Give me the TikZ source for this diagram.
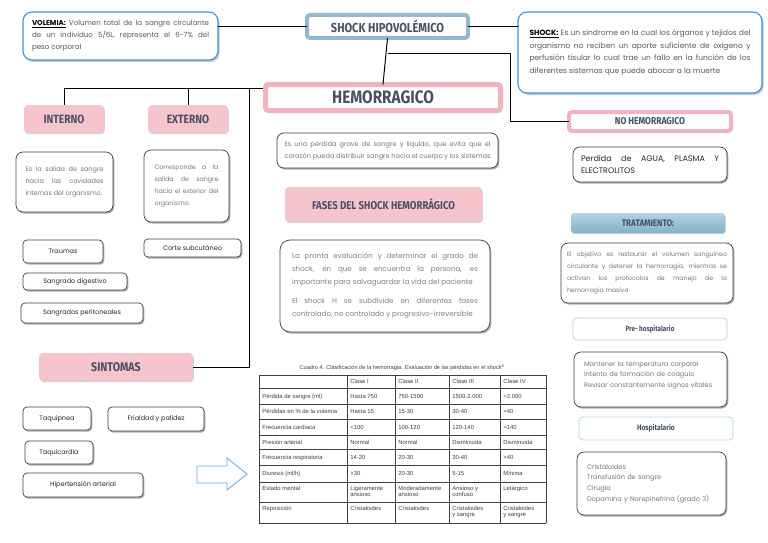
\documentclass[tikz,border=0pt]{standalone}
\usepackage{fontspec}
\usepackage{array}
\setmainfont{Poppins}
\newfontfamily\hfont[FakeStretch=0.85]{Fira Sans}
\newfontfamily\tfont{Liberation Sans}
\usetikzlibrary{shadows}
\definecolor{pinkf}{HTML}{F5C4CD}
\definecolor{pinkb}{HTML}{F2B3C0}
\definecolor{hblue}{HTML}{94B8CD}
\definecolor{bblue}{HTML}{3F94D6}
\definecolor{lblue}{HTML}{B7D3E1}
\definecolor{htext}{HTML}{4A5064}
\definecolor{btext}{HTML}{777777}
\definecolor{tratt}{HTML}{B3D3E4}
\definecolor{tratb}{HTML}{82B1CB}
\newcommand\fsz[2]{\fontsize{#1}{#2}\selectfont}
\newcommand\tstrut[2]{\rule[-#2pt]{0pt}{\dimexpr#1pt+#2pt\relax}}
\newcolumntype{P}[1]{>{\raggedright\arraybackslash}p{#1}}
\hyphenpenalty=10000
\begin{document}
\begin{tikzpicture}[x=1pt,y=-1pt,
  bx/.style={anchor=north west, inner sep=0pt, outer sep=0pt},
  graybox/.style={bx, draw=black!75, line width=0.7pt, rounded corners=7pt, fill=white, text=btext,
    drop shadow={shadow xshift=1.3pt, shadow yshift=-1.6pt, fill=black!60, opacity=0.55}},
  smallbox/.style={graybox, rounded corners=4pt, font=\fsz{6.5}{8}, text=black!85},
  bluebox/.style={bx, draw=bblue, line width=1.1pt, rounded corners=9pt, fill=white, text=black!65,
    drop shadow={shadow xshift=1.5pt, shadow yshift=-2pt, fill=black!45, opacity=0.5}},
  pinkhead/.style={bx, fill=pinkf, rounded corners=4pt, text=htext, font=\hfont\bfseries,
    drop shadow={shadow xshift=0.8pt, shadow yshift=-1.2pt, fill=black!35, opacity=0.5}},
  pinkframe/.style={bx, draw=pinkb, line width=4pt, fill=white, rounded corners=3pt, text=htext, font=\hfont\bfseries},
  blueframe/.style={bx, draw=hblue, line width=4pt, fill=white, rounded corners=3pt, text=htext, font=\hfont\bfseries,
    drop shadow={shadow xshift=1pt, shadow yshift=-1.5pt, fill=black!35, opacity=0.5}},
  lightframe/.style={bx, draw=lblue, line width=0.8pt, rounded corners=4pt, fill=white, text=htext, font=\hfont\bfseries},
  conn/.style={draw=black, line width=1pt},
]
\useasboundingbox (0,0) rectangle (768,543);
\fill[white] (0,0) rectangle (768,543);

% top row
\node[bluebox, minimum width=195pt, minimum height=48pt, text width=177pt, align=justify, font=\fsz{7.1}{12}] (volemia) at (23,12)
  {\textcolor{black}{\underline{\textbf{VOLEMIA:}}} Volumen total de la sangre circulante\linebreak de un individuo 5/6L, representa el 6-7\% del\linebreak peso corporal};
\node[blueframe, minimum width=161pt, minimum height=23pt, font=\hfont\bfseries\fsz{13}{15}] (shockhip) at (307,15) {SHOCK HIPOVOLÉMICO};
\node[bluebox, minimum width=244pt, minimum height=81pt, text width=221pt, align=justify, font=\fsz{7.5}{12.5}] (shockdef) at (518,12)
  {\textcolor{black}{\underline{\textbf{SHOCK:}}} Es un síndrome en la cual los órganos y tejidos del\linebreak organismo no reciben un aporte suficiente de oxígeno y\linebreak perfusión tisular lo cual trae un fallo en la función de los\linebreak diferentes sistemas que puede abocar a la muerte};

% hemorragico
\node[pinkframe, line width=5pt, minimum width=235pt, minimum height=26pt, font=\hfont\bfseries\fsz{18}{20}] (hemo) at (265.5,84.5) {HEMORRAGICO};
\node[pinkframe, minimum width=162pt, minimum height=19pt, font=\hfont\bfseries\fsz{10}{12}] (nohemo) at (569,112) {NO HEMORRAGICO};

\node[pinkhead, minimum width=80pt, minimum height=28pt, font=\hfont\bfseries\fsz{12}{14}] (interno) at (24,105) {INTERNO};
\node[pinkhead, minimum width=80pt, minimum height=28pt, font=\hfont\bfseries\fsz{12}{14}] (externo) at (148,105) {EXTERNO};

\node[graybox, minimum width=97pt, minimum height=60pt, text width=78pt, align=justify, font=\fsz{6.5}{12}] (intdesc) at (16,152)
  {Es la salida de sangre\linebreak hacia las cavidades\linebreak internas del organismo.};
\node[graybox, minimum width=85pt, minimum height=72pt, text width=64pt, align=justify, font=\fsz{6.3}{11.8}] (extdesc) at (144,150)
  {Corresponde a la\linebreak salida de sangre\linebreak hacia el exterior del\linebreak organismo.};

\node[graybox, minimum width=221pt, minimum height=35pt, text width=206pt, align=justify, font=\fsz{6.6}{12}] (hemodesc) at (277,133)
  {Es una perdida grave de sangre y liquido, que evita que el\linebreak corazón pueda distribuir sangre hacia el cuerpo y los sistemas};
\node[pinkhead, minimum width=197pt, minimum height=35pt, font=\hfont\bfseries\fsz{11.3}{13}] (fases) at (285,187) {FASES DEL SHOCK HEMORRÁGICO};
\node[graybox, rounded corners=10pt, minimum width=210pt, minimum height=92pt, text width=186pt, align=justify, font=\fsz{7.1}{13}, text=black!50] (fasesdesc) at (280,240)
  {La pronta evaluación y determinar el grado de\linebreak shock, en que se encuentra la persona, es\linebreak importante para salvaguardar la vida del paciente\par\vspace{6pt}El shock H se subdivide en diferentes fases\linebreak controlado, no controlado y progresivo-irreversible};

% right column
\node[graybox, minimum width=154pt, minimum height=35pt, text width=138pt, align=justify, font=\fsz{8}{12}, text=black!85] (perdida) at (573,147)
  {Perdida de AGUA, PLASMA Y\linebreak ELECTROLITOS};
\node[bx, top color=tratt, bottom color=tratb, rounded corners=3pt, minimum width=154pt, minimum height=20pt, text=htext, font=\hfont\bfseries\fsz{9.5}{11},
  drop shadow={shadow xshift=0.8pt, shadow yshift=-1.2pt, fill=black!35, opacity=0.5}] (trat) at (571,213) {TRATAMIENTO:};
\node[graybox, minimum width=172pt, minimum height=60pt, text width=160pt, align=justify, font=\fsz{6.2}{12.2}] (objetivo) at (561,243)
  {El objetivo es restaurar el volumen sanguíneo\linebreak circulante y detener la hemorragia, mientras se\linebreak activan los protocolos de manejo de la\linebreak hemorragia masiva};
\node[lightframe, minimum width=154pt, minimum height=22pt, font=\hfont\bfseries\fsz{7.5}{9}] (prehosp) at (573,318) {Pre- hospitalario};
\node[graybox, minimum width=153pt, minimum height=55pt, text width=133pt, align=left, font=\fsz{6.6}{10.6}] (mantener) at (574,352)
  {Mantener la temperatura corporal\\Intento de formación de coagulo\\Revisar constantemente signos vitales\\\mbox{}};
\node[lightframe, minimum width=154pt, minimum height=23pt, font=\hfont\bfseries\fsz{7.9}{9}] (hosp) at (579,417) {Hospitalario};
\node[graybox, minimum width=149pt, minimum height=63pt, text width=129pt, align=left, font=\fsz{6.6}{10.7}] (crist) at (577,452)
  {Cristaloides\\Transfusión de sangre\\Cirugía\\Dopamina y Norepinefrina (grado 3)};

% left small boxes
\node[smallbox, minimum width=80pt, minimum height=23pt] (traumas) at (23,240) {Traumas};
\node[smallbox, minimum width=97pt, minimum height=18pt] (corte) at (144,239) {Corte subcutáneo};
\node[smallbox, minimum width=104pt, minimum height=17pt] (digest) at (23,273) {Sangrado digestivo};
\node[smallbox, minimum width=122pt, minimum height=20pt] (perit) at (21,303) {Sangrados peritoneales};

\node[pinkhead, minimum width=154pt, minimum height=28pt, font=\hfont\bfseries\fsz{12.5}{14}] (sintomas) at (39,353) {SINTOMAS};
\node[smallbox, minimum width=68pt, minimum height=23pt] (taquipnea) at (23,407) {Taquipnea};
\node[smallbox, minimum width=96pt, minimum height=24pt] (frialdad) at (108,407) {Frialdad y palidez};
\node[smallbox, minimum width=68pt, minimum height=23pt] (taquicardia) at (25,441) {Taquicardia};
\node[smallbox, minimum width=120pt, minimum height=24pt] (hipert) at (23,473) {Hipertensión arterial};

% arrow
\draw[draw=bblue!80, line width=0.8pt, line join=miter] (197,466) -- (227,466) -- (227,458) -- (247,474) -- (227,490) -- (227,483) -- (197,483) -- cycle;

% table
\node[anchor=center, inner sep=0pt, text=black!75] (caption) at (402,367.5) {\tfont\fsz{5.6}{6}Cuadro 4. Clasificación de la hemorragia. Evaluación de las pérdidas en el shock\textsuperscript{8}};
\node[bx] (tabla) at (259,375) {\tfont\fsz{5.9}{6.6}\color{black!75}\setlength\tabcolsep{3pt}%
\begin{tabular}{|P{81.6pt}|P{41.6pt}|P{47.6pt}|P{44.6pt}|P{39.6pt}|}\hline
\tstrut{8.4}{4.2} & Clase I & Clase II & Clase III & Clase IV \\\hline
\tstrut{9.9}{5.7}Pérdida de sangre (ml) & Hasta 750 & 750-1500 & 1500-2.000 & >2.000 \\\hline
\tstrut{9.4}{5.2}Pérdidas en \% de la volemia & Hasta 15 & 15-30 & 30-40 & >40 \\\hline
\tstrut{9.9}{5.7}Frecuencia cardiaca & <100 & 100-120 & 120-140 & >140 \\\hline
\tstrut{8.9}{4.7}Presión arterial & Normal & Normal & Disminuida & Disminuida \\\hline
\tstrut{9.9}{5.7}Frecuencia respiratoria & 14-20 & 20-30 & 30-40 & >40 \\\hline
\tstrut{10.4}{6.2}Diuresis (ml/h) & >30 & 20-30 & 5-15 & Mínima \\\hline
\tstrut{7.7}{11.9}Estado mental & Ligeramente\newline ansioso & Moderadamente\newline ansioso & Ansioso y\newline confuso & Letárgico \\\hline
\tstrut{7.7}{12.9}Reposición & Cristaloides & Cristaloides & Cristaloides\newline y sangre & Cristaloides\newline y sangre \\\hline
\end{tabular}};

% connectors
\draw[conn] (shockhip.west) -- (shockhip.west -| volemia.east);
\draw[conn] (shockhip.east) -- (shockhip.east -| shockdef.west);
\draw[conn] (shockhip.south) -- (hemo.north);
\coordinate (j1) at (387.5,54);
\coordinate (j2) at (510,121.5);
\draw[conn] (j1) -| (j2) -- (nohemo.west);
\coordinate (h1) at (263,88);
\coordinate (h2) at (249,88);
\draw[conn] (h1) -| (interno.north);
\draw[conn] (externo.north) |- (h1);
\draw[conn] (sintomas.east) -| (h2);
\end{tikzpicture}
\end{document}
